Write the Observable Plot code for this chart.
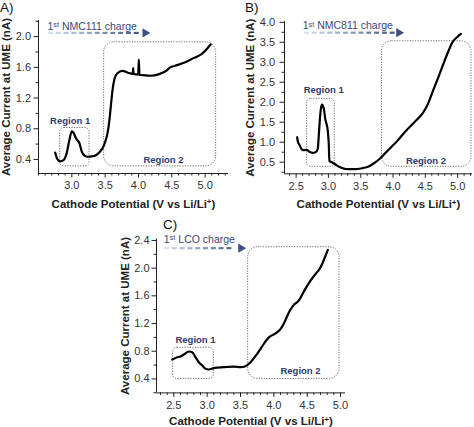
<!DOCTYPE html>
<html>
<head>
<meta charset="utf-8">
<script src="https://cdn.jsdelivr.net/npm/d3@7"></script>
<script src="https://cdn.jsdelivr.net/npm/@observablehq/plot@0.6"></script>
<style>
  body { margin: 0; background: #fff; }
  #fig { position: relative; width: 474px; height: 427px; overflow: hidden;
         font-family: "Liberation Sans", Arial, sans-serif; }
  #fig svg { position: absolute; overflow: visible; }
  .tag { position: absolute; font-size: 13.5px; line-height: 14px; color: #111; }
</style>
</head>
<body>
<div id="fig"></div>
<script>
// ---- Panel A: first NMC111 charge ----
const nmc111Potential = [2.75, 2.78, 2.825, 2.875, 2.925, 2.96, 3.00, 3.03, 3.06, 3.085, 3.11, 3.15, 3.19, 3.24, 3.30, 3.36, 3.42, 3.47, 3.50, 3.53, 3.555, 3.58, 3.61, 3.64, 3.68, 3.76, 3.84, 3.915, 3.92, 3.925, 3.995, 4.005, 4.015, 4.03, 4.175, 4.32, 4.425, 4.475, 4.55, 4.70, 4.825, 4.95, 5.025, 5.085];
const nmc111Current   = [0.49, 0.41, 0.375, 0.39, 0.49, 0.64, 0.765, 0.74, 0.68, 0.648, 0.62, 0.50, 0.45, 0.435, 0.44, 0.455, 0.50, 0.56, 0.63, 0.72, 0.85, 1.05, 1.30, 1.45, 1.52, 1.555, 1.53, 1.515, 1.59, 1.515, 1.505, 1.70, 1.50, 1.50, 1.49, 1.515, 1.56, 1.60, 1.62, 1.665, 1.72, 1.775, 1.84, 1.90];
const nmc111XTicks = [3.0, 3.5, 4.0, 4.5, 5.0];
const nmc111YTicks = [0.4, 0.8, 1.2, 1.6, 2.0];
const nmc111Regions = [
  {name: "Region 1", x1: 2.825, x2: 3.265, y1: 0.31, y2: 0.81, lx: 2.975, ly: 0.905},
  {name: "Region 2", x1: 3.485, x2: 5.165, y1: 0.31, y2: 1.926, lx: 4.375, ly: 0.397}
];
const nmc111Charge = {text: "1^st NMC111 charge", tx: 2.634, ty: 2.092, x1: 2.649, x2: 4.133, y: 2.048};

// ---- Panel B: first NMC811 charge ----
const nmc811Potential = [2.515, 2.53, 2.556, 2.593, 2.62, 2.66, 2.70, 2.75, 2.80, 2.835, 2.85, 2.866, 2.887, 2.90, 2.93, 2.95, 2.99, 3.005, 3.015, 3.055, 3.13, 3.20, 3.27, 3.40, 3.52, 3.63, 3.71, 3.79, 3.87, 3.97, 4.07, 4.18, 4.28, 4.38, 4.46, 4.54, 4.61, 4.69, 4.77, 4.85, 4.92, 5.00, 5.05];
const nmc811Current   = [1.125, 1.0, 0.92, 0.81, 0.80, 0.81, 0.77, 0.735, 0.75, 0.835, 1.15, 1.54, 1.875, 1.94, 1.83, 1.59, 1.29, 0.96, 0.525, 0.50, 0.42, 0.36, 0.33, 0.325, 0.35, 0.40, 0.48, 0.58, 0.71, 0.875, 1.04, 1.25, 1.42, 1.58, 1.725, 1.96, 2.25, 2.58, 2.92, 3.25, 3.50, 3.64, 3.71];
const nmc811XTicks = [2.5, 3.0, 3.5, 4.0, 4.5, 5.0];
const nmc811YTicks = [0.5, 1.0, 1.5, 2.0, 2.5, 3.0, 3.5, 4.0];
const nmc811Regions = [
  {name: "Region 1", x1: 2.67, x2: 3.098, y1: 0.385, y2: 2.085, lx: 2.927, ly: 2.31},
  {name: "Region 2", x1: 3.83, x2: 5.215, y1: 0.385, y2: 3.525, lx: 4.51, ly: 0.54}
];
const nmc811Charge = {text: "1^st NMC811 charge", tx: 2.602, ty: 3.825, x1: 2.628, x2: 4.125, y: 3.74};

// ---- Panel C: first LCO charge ----
const lcoPotential = [2.476, 2.50, 2.55, 2.60, 2.65, 2.725, 2.776, 2.825, 2.875, 2.926, 2.975, 3.025, 3.10, 3.25, 3.40, 3.50, 3.575, 3.65, 3.75, 3.85, 3.925, 3.97, 4.03, 4.10, 4.16, 4.22, 4.29, 4.374, 4.46, 4.55, 4.63, 4.70, 4.775, 4.81];
const lcoCurrent   = [0.68, 0.69, 0.714, 0.724, 0.753, 0.796, 0.786, 0.714, 0.641, 0.594, 0.546, 0.536, 0.555, 0.569, 0.579, 0.569, 0.584, 0.641, 0.763, 0.907, 1.0, 1.03, 1.06, 1.12, 1.22, 1.35, 1.46, 1.533, 1.68, 1.82, 1.92, 2.01, 2.18, 2.265];
const lcoXTicks = [2.5, 3.0, 3.5, 4.0, 4.5, 5.0];
const lcoYTicks = [0.4, 0.8, 1.2, 1.6, 2.0, 2.4];
const lcoRegions = [
  {name: "Region 1", x1: 2.49, x2: 3.10, y1: 0.40, y2: 0.85, lx: 2.825, ly: 0.969},
  {name: "Region 2", x1: 3.615, x2: 4.985, y1: 0.40, y2: 2.303, lx: 4.40, ly: 0.511}
];
const lcoCharge = {text: "1^st LCO charge", tx: 2.35, ty: 2.36, x1: 2.36, x2: 3.54, y: 2.289};

const xTitle = "Cathode Potential (V vs Li/Li^+)";
const yTitle = "Average Current at UME (nA)";

const FONT = '"Liberation Sans", Arial, sans-serif';
const INK = "#222";
const NAVY = "#2d3b6e";

// multiples of `step` inside [lo, hi], used for minor ticks
function steps(lo, hi, step) {
  const k0 = Math.ceil(lo / step - 1e-6), k1 = Math.floor(hi / step + 1e-6);
  return d3.range(k0, k1 + 1).map(k => +(k * step).toFixed(4));
}

// turn "a^b c" into text with a raised "b"
function superscripts(svg) {
  svg.querySelectorAll("text").forEach(el => {
    if (el.children.length) return;
    const s = el.textContent;
    if (!s.includes("^")) return;
    el.textContent = "";
    const parts = s.split(/\^(\w+|\+)/);
    let raised = false;
    parts.forEach((p, i) => {
      if (!p) return;
      const t = document.createElementNS("http://www.w3.org/2000/svg", "tspan");
      t.textContent = p;
      if (i % 2) {
        t.setAttribute("dy", "-0.38em");
        t.setAttribute("font-size", "70%");
        raised = true;
      } else if (raised) {
        t.setAttribute("dy", "0.27em");
        raised = false;
      }
      el.appendChild(t);
    });
  });
}

function panel(cfg) {
  const {potential, current, xDomain, yDomain, xTicks, yTicks, xStep, yStep,
         regions, charge, box, xLabelGap, yLabelGap, xPad, yPad} = cfg;
  const pts = potential.map((v, i) => ({v, c: current[i]}));
  const plotW = box.width - box.ml - box.mr;
  const perPx = (xDomain[1] - xDomain[0]) / plotW;
  const xMid = (xDomain[0] + xDomain[1]) / 2, yMid = (yDomain[0] + yDomain[1]) / 2;

  // dashed charge arrow, fading from pale to dark blue
  const dash = 5 * perPx, gap = 2.8 * perPx, head = 4.5 * perPx;
  const shade = d3.interpolateRgb("#d8dfee", "#3e4f80");
  const span = charge.x2 - head - charge.x1;
  const dashes = [];
  for (let x = charge.x1; x + dash <= charge.x2 - head + 1e-9; x += dash + gap)
    dashes.push({x1: x, x2: x + dash, t: (x - charge.x1) / span});

  const xMinor = steps(xDomain[0], xDomain[1], xStep).filter(v => !xTicks.some(t => Math.abs(t - v) < 1e-6));
  const yMinor = steps(yDomain[0], yDomain[1], yStep).filter(v => !yTicks.some(t => Math.abs(t - v) < 1e-6));

  const svg = Plot.plot({
    width: box.width, height: box.height,
    marginLeft: box.ml, marginRight: box.mr, marginTop: box.mt, marginBottom: box.mb,
    style: {fontFamily: FONT, fontSize: "11px", color: "#333", background: "transparent", overflow: "visible"},
    x: {domain: xDomain},
    y: {domain: yDomain},
    color: {type: "identity"},
    marks: [
      // region outlines
      Plot.rect([regions[0]], {x1: "x1", x2: "x2", y1: "y1", y2: "y2", rx: 4, fill: "none",
        stroke: "#6b6b6b", strokeWidth: 1, strokeDasharray: "1.2,1.4"}),
      Plot.rect([regions[1]], {x1: "x1", x2: "x2", y1: "y1", y2: "y2", rx: 10, fill: "none",
        stroke: "#6b6b6b", strokeWidth: 1, strokeDasharray: "1.2,1.4"}),
      Plot.text(regions, {x: "lx", y: "ly", text: "name", fill: NAVY, fontWeight: "bold", fontSize: 9.5}),
      // axes
      Plot.axisX(xMinor, {tickSize: 2.5, tickFormat: () => "", label: null, stroke: INK}),
      Plot.axisY(yMinor, {tickSize: 2.5, tickFormat: () => "", label: null, stroke: INK}),
      Plot.axisX(xTicks, {tickSize: 4.5, tickPadding: xPad, tickFormat: d3.format(".1f"), label: null, stroke: INK, fill: "#333"}),
      Plot.axisY(yTicks, {tickSize: 4.5, tickPadding: yPad, tickFormat: d3.format(".1f"), label: null, stroke: INK, fill: "#333"}),
      Plot.ruleY([yDomain[0]], {stroke: INK, strokeWidth: 1}),
      Plot.ruleX([xDomain[0]], {stroke: INK, strokeWidth: 1}),
      // axis titles
      Plot.text([xTitle], {x: () => xMid, y: () => yDomain[0], text: d => d, dy: xLabelGap,
        lineAnchor: "bottom", fontWeight: "bold", fontSize: 11.5, fill: INK}),
      Plot.text([yTitle], {x: () => xDomain[0], y: () => yMid, text: d => d, dx: -yLabelGap,
        rotate: -90, lineAnchor: "top", fontWeight: "bold", fontSize: 11.5, fill: INK}),
      // charge direction annotation
      Plot.ruleY(dashes, {x1: "x1", x2: "x2", y: () => charge.y, stroke: d => shade(d.t), strokeWidth: 2.2}),
      Plot.dot([charge], {x: d => d.x2 - head / 2, y: "y", symbol: "triangle", r: 3.4, rotate: 90,
        fill: "#3e4f80", stroke: "none"}),
      Plot.text([charge], {x: "tx", y: "ty", text: "text", textAnchor: "start", lineAnchor: "bottom",
        fill: "#3a4876", fontSize: 10.5}),
      // current trace
      Plot.line(pts, {x: "v", y: "c", stroke: "#000", strokeWidth: 2.2, curve: "monotone-x"})
    ]
  });
  superscripts(svg);
  svg.style.left = box.left + "px";
  svg.style.top = box.top + "px";
  return svg;
}

const fig = document.getElementById("fig");

fig.append(panel({
  potential: nmc111Potential, current: nmc111Current,
  xDomain: [2.5, 5.35], yDomain: [0.217, 2.21],
  xTicks: nmc111XTicks, yTicks: nmc111YTicks, xStep: 0.1, yStep: 0.2,
  regions: nmc111Regions, charge: nmc111Charge,
  box: {left: 0, top: 0, width: 237, height: 212, ml: 38, mr: 9, mt: 20, mb: 39},
  xLabelGap: 34, yLabelGap: 37, xPad: 3.5, yPad: 3
}));

fig.append(panel({
  potential: nmc811Potential, current: nmc811Current,
  xDomain: [2.32, 5.23], yDomain: [0.21, 4.02],
  xTicks: nmc811XTicks, yTicks: nmc811YTicks, xStep: 0.1, yStep: 0.25,
  regions: nmc811Regions, charge: nmc811Charge,
  box: {left: 237, top: 0, width: 237, height: 212, ml: 47, mr: 2, mt: 21, mb: 38.7},
  xLabelGap: 34, yLabelGap: 39, xPad: 3.5, yPad: 5
}));

fig.append(panel({
  potential: lcoPotential, current: lcoCurrent,
  xDomain: [2.24, 5.075], yDomain: [0.198, 2.42],
  xTicks: lcoXTicks, yTicks: lcoYTicks, xStep: 0.1, yStep: 0.2,
  regions: lcoRegions, charge: lcoCharge,
  box: {left: 110, top: 212, width: 250, height: 215, ml: 46, mr: 15, mt: 26.6, mb: 34.6},
  xLabelGap: 32, yLabelGap: 36, xPad: 4, yPad: 2.5
}));

// panel letters
[["A)", 0, 1], ["B)", 245, 1], ["C)", 163, 218]].forEach(([t, x, y]) => {
  const d = document.createElement("div");
  d.className = "tag";
  d.textContent = t;
  d.style.left = x + "px";
  d.style.top = y + "px";
  fig.append(d);
});
</script>
</body>
</html>
